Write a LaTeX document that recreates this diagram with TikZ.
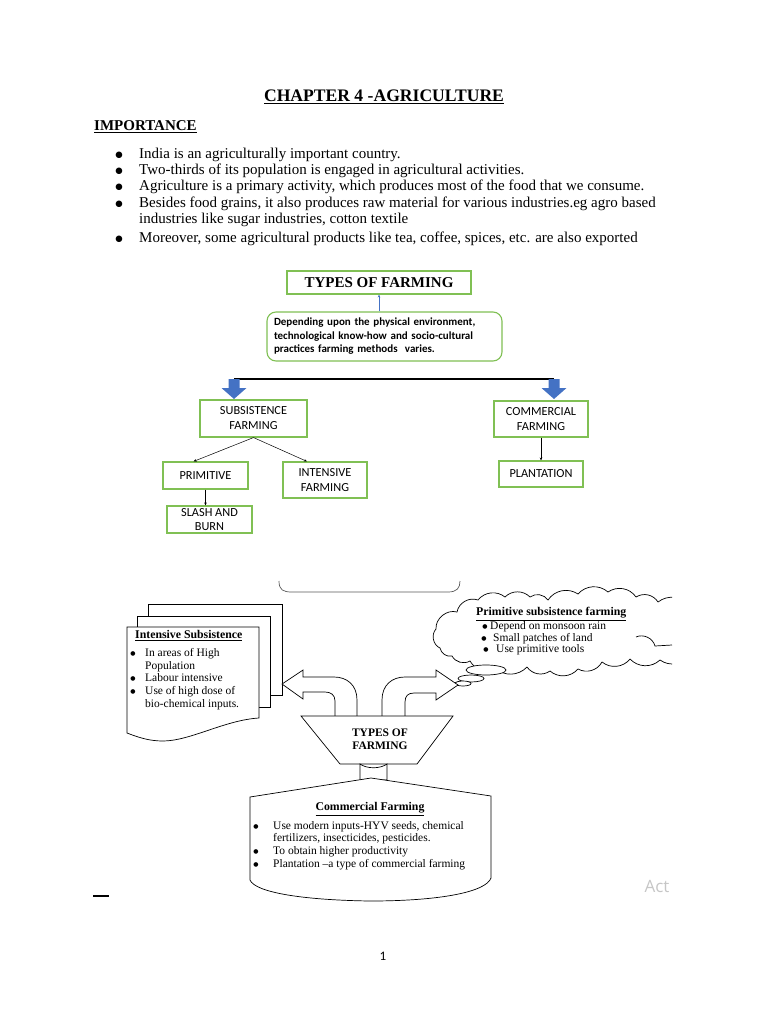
\documentclass[tikz,border=0pt]{standalone}
\usepackage{fontspec}
\setmainfont{Liberation Serif}
\newfontfamily\calibrifont{Carlito}
\newfontfamily\uifont{Open Sans}
\newfontfamily\symfont{DejaVu Sans}
\usetikzlibrary{arrows.meta, positioning}
\definecolor{box_green}{RGB}{128,192,84}
\definecolor{arrow_blue}{RGB}{68,114,196}
\newcommand{\fsz}[1]{\fontsize{#1}{1.2\dimexpr #1pt\relax}\selectfont}

\begin{document}
\begin{tikzpicture}[
    x=1pt, y=-1pt,
    every node/.style={inner sep=0pt},
    body/.style={anchor=west, font=\fsz{15}, text height=10pt, text depth=3pt},
    small/.style={anchor=west, font=\fsz{11.5}, text height=8pt, text depth=2.5pt},
    smallhead/.style={small, font=\bfseries\fsz{11.8}},
    dot/.style={font=\symfont\fsz{8.5}},
    smalldot/.style={font=\symfont\fsz{6}},
    gbox/.style={draw=box_green, line width=1.1pt, fill=white, align=center},
    lbl/.style={font=\calibrifont\fontsize{12.3}{15}\selectfont},
    arr/.style={-{Stealth[length=3pt, width=2.5pt]}, line width=0.5pt},
    shape_line/.style={draw=black, line width=0.7pt, fill=white},
]
\useasboundingbox (0,0) rectangle (768,1024);

% header and importance list
\node[font=\bfseries\fsz{17.6}] (title) at (384,97) {\underline{CHAPTER 4 -AGRICULTURE}};
\node[body, font=\bfseries\fsz{15}] (imp) at (94,127) {\underline{IMPORTANCE}};
\node[body] (pt1) at (139,155) {India is an agriculturally important country.};
\node[body] (pt2) at (139,171) {Two-thirds of its population is engaged in agricultural activities.};
\node[body] (pt3) at (139,187) {Agriculture is a primary activity, which produces most of the food that we consume.};
\node[body] (pt4) at (139,204) {Besides food grains, it also produces raw material for various industries.eg agro based};
\node[body] (pt4b) at (139,220) {industries like sugar industries, cotton textile};
\node[body] (pt5) at (139,239) {Moreover, some agricultural products like tea, coffee, spices, etc. are also exported};
\foreach \y in {155,171,187,204,239}
    \node[dot] at (119,\y) {●};

% types of farming chart
\node[gbox, font=\bfseries\fsz{15}, minimum width=184, minimum height=23] (tof) at (379,282.5) {TYPES OF FARMING};
\node[gbox, rounded corners=9pt, minimum width=235, minimum height=49, inner xsep=7pt,
      text width=221, align=left, font=\calibrifont\bfseries\fontsize{11}{13.5}\selectfont] (desc) at (384.5,336.5)
      {Depending upon the physical environment,\\technological know-how and socio-cultural\\practices farming methods~~varies.};
\draw[arr, arrow_blue] (desc.north -| tof.south) -- (tof.south);

\coordinate (ltop) at (234,379);
\coordinate (rtop) at (554,379);
\draw[line width=1.6pt] (ltop) -- (rtop);
\foreach \c in {ltop,rtop}
    \fill[arrow_blue] (\c) ++(-5.5,0) -- ++(11,0) -- ++(0,9) -- ++(7,0) -- ++(-12.5,11) -- ++(-12.5,-11) -- ++(7,0) -- cycle;

\node[gbox, lbl, minimum width=107, minimum height=37] (subs) at (253.5,418.5) {SUBSISTENCE\\FARMING};
\node[gbox, lbl, minimum width=94, minimum height=36] (comm) at (541,419) {COMMERCIAL\\FARMING};
\node[gbox, lbl, minimum width=85, minimum height=27] (prim) at (205.5,475.5) {PRIMITIVE};
\node[gbox, lbl, minimum width=84, minimum height=36] (intens) at (325,480) {INTENSIVE\\FARMING};
\node[gbox, lbl, font=\calibrifont\fontsize{12.3}{14}\selectfont, minimum width=85, minimum height=27] (slash) at (209.5,519.5) {SLASH AND\\BURN};
\node[gbox, lbl, minimum width=84, minimum height=26] (plant) at (541,474) {PLANTATION};

\draw[arr] (subs.south) -- ([xshift=-12pt]prim.north);
\draw[arr] (subs.south) -- ([xshift=-18pt]intens.north);
\draw[arr] (prim.south) -- (prim.south |- slash.north);
\draw[arr] (comm.south) -- (plant.north);

% lower figure
\draw[gray!70!black, line width=0.7pt] (279,581) .. controls (279,590) and (283,592) .. (292,592)
    -- (448,592) .. controls (457,592) and (460,588) .. (460,581);

% stacked pages
\draw[shape_line] (148,616) -- (148,604) -- (282,604) -- (282,695) -- (270,695);
\draw[shape_line] (137,627) -- (137,616) -- (270,616) -- (270,707) -- (259,707);
\draw[shape_line] (127,627) -- (259,627) -- (259,718) .. controls (225,720) and (190,741) .. (163,741)
    .. controls (150,741) and (140,738) .. (127,733) -- cycle;
\node[smallhead] (ishead) at (135,636) {\underline{Intensive Subsistence}};
\node[small] (is1) at (145,654) {In areas of High};
\node[small] (is1b) at (145,667) {Population};
\node[small] (is2) at (145,679) {Labour intensive};
\node[small] (is3) at (145,692) {Use of high dose of};
\node[small] (is3b) at (145,705) {bio-chemical inputs.};
\foreach \y in {654,679,692}
    \node[smalldot] at (133,\y) {●};

% cloud
\begin{scope}
\clip (0,0) rectangle (672,1024);
\draw[shape_line] (440,648) to[bend left=55] (436,629) to[bend left=55] (457,612)
    to[bend left=50] (478,600) to[bend left=45] (505,597) to[bend left=45] (530,597)
    to[bend left=45] (548,600) to[bend left=45] (578,594) to[bend left=45] (608,592)
    to[bend left=45] (636,597) to[bend left=45] (658,602) to[bend left=45] (690,606)
    to[bend left=55] (705,632) to[bend left=55] (690,655) to[bend left=45] (660,660)
    to[bend left=45] (630,659) to[bend left=45] (602,662) to[bend left=45] (578,669)
    to[bend left=45] (550,671) to[bend left=45] (527,667) to[bend left=45] (495,668)
    to[bend left=45] (470,661) to[bend left=45] (452,656) to[bend left=45] (440,648) -- cycle;
\draw[line width=0.7pt] (636,637) to[bend left=50] (655,646) -- (672,645);
\end{scope}
\draw[shape_line] (486,670) ellipse [x radius=20, y radius=5];
\draw[shape_line] (471,678.5) ellipse [x radius=13, y radius=3.5];
\draw[shape_line] (463,683.5) ellipse [x radius=8, y radius=2.5];
\node[smallhead] (pshead) at (476,613) {\underline{Primitive subsistence farming}};
\node[small] (ps1) at (490,627) {Depend on monsoon rain};
\node[small] (ps2) at (493,639) {Small patches of land};
\node[small] (ps3) at (496,650) {Use primitive tools};
\node[smalldot] at (485,627) {●};
\node[smalldot] at (484,639) {●};
\node[smalldot] at (486,650) {●};

% curved arrows and funnel
\draw[shape_line] (357,716) -- (357,700) .. controls (357,685) and (347,677) .. (334,677) -- (303,677)
    -- (303,670) -- (282,684) -- (303,699) -- (303,692) -- (325,692)
    .. controls (331,692) and (335,695) .. (335,701) -- (335,716);
\draw[shape_line] (382,716) -- (382,700) .. controls (382,685) and (392,677) .. (405,677) -- (436,677)
    -- (436,670) -- (458,685) -- (436,700) -- (436,693) -- (414,693)
    .. controls (408,693) and (405,696) .. (405,702) -- (405,716);
\draw[shape_line] (301,716) -- (453,716) -- (417,764) -- (340,764) -- cycle;
\node[font=\bfseries\fontsize{11.5}{13}\selectfont, align=center] (funnel) at (380,739.5) {TYPES OF\\FARMING};

% neck and commercial shape
\draw[shape_line] (360,764) .. controls (367,769) and (380,769) .. (387,764) -- (387,780) -- (360,780) -- cycle;
\draw[shape_line] (250,797) -- (371,778) -- (491,796) -- (491,878)
    .. controls (486,892) and (440,901) .. (370,901) .. controls (300,900) and (255,892) .. (250,880) -- cycle;
\node[smallhead, anchor=center] (cfhead) at (370,808) {\underline{Commercial Farming}};
\node[small] (cf1) at (273,827) {Use modern inputs-HYV seeds, chemical};
\node[small] (cf1b) at (273,839) {fertilizers, insecticides, pesticides.};
\node[small] (cf2) at (273,852) {To obtain higher productivity};
\node[small] (cf3) at (273,865) {Plantation --a type of commercial farming};
\foreach \y in {827,852,865}
    \node[smalldot] at (256,\y) {●};

% page bits
\draw[line width=2pt] (93,896) -- (109,896);
\node[font=\uifont\fsz{17}, text=gray!45] (act) at (657,886) {Act};
\node[font=\calibrifont\fsz{13}] (pageno) at (383,956) {1};
\end{tikzpicture}
\end{document}
